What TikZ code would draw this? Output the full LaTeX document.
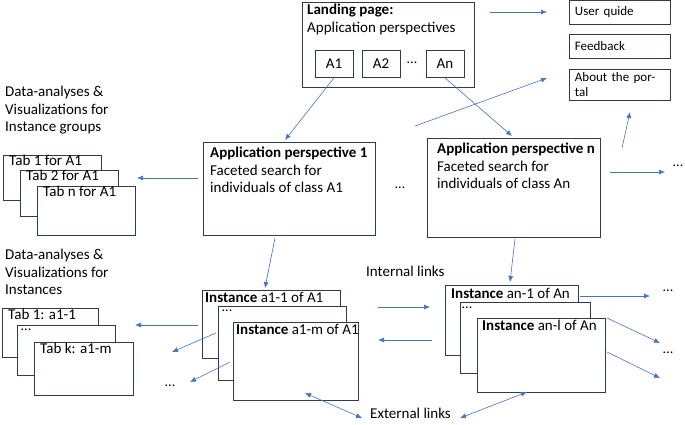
\documentclass[tikz,border=0pt]{standalone}
\usepackage{fontspec}
\setmainfont{Carlito}
\usetikzlibrary{arrows.meta}
\definecolor{frame}{HTML}{2F3B55}
\definecolor{arr}{HTML}{4472C4}
\begin{document}
\begin{tikzpicture}[x=1pt,y=-1pt,
  box/.style={draw=frame,fill=white,thick},
  lbl/.style={anchor=north west,inner sep=0pt,font=\fontsize{15}{17.5}\selectfont,align=left},
  small/.style={draw=frame,thick,minimum width=38pt,minimum height=27pt,font=\fontsize{15}{17}\selectfont},
  side/.style={draw=frame,thick,anchor=north west,minimum width=101pt,minimum height=24pt,text width=90pt,align=left,font=\fontsize{13}{15}\selectfont},
  link/.style={draw=arr,semithick,-{Latex[length=6pt,width=5pt]}},
  dlink/.style={draw=arr,semithick,{Latex[length=6pt,width=5pt]}-{Latex[length=6pt,width=5pt]}},
  dots/.style={font=\fontsize{14}{15}\selectfont}]
\useasboundingbox (0,0) rectangle (685,424);
% landing page
\draw[box] (302,2) rectangle (474,87);
\node[lbl] (land) at (307,4) {\textbf{Landing page:}\\Application perspectives};
\node[small] (a1) at (334,64) {A1};
\node[small] (a2) at (381,64) {A2};
\node[dots] at (412,63) {...};
\node[small] (an) at (445,64) {An};
% side menu
\node[side] (ug) at (569,0) {User quide};
\node[side] (fb) at (569,34) {Feedback};
\node[side] (ab) at (569,69) {About the portal};
\coordinate (t1) at (490,12); \coordinate (t1e) at (547,12);
\coordinate (t2) at (415,126); \coordinate (t2e) at (547,78);
\coordinate (t3) at (622,148); \coordinate (t3e) at (630,112);
\draw[link] (t1) -- (t1e);
\draw[link] (t2) -- (t2e);
\draw[link] (t3) -- (t3e);
% groups
\node[lbl] at (5,86) {Data-analyses \&\\Visualizations for\\Instance groups};
\draw[box] (3,155) rectangle (101,200);
\node[lbl] at (9,155) {Tab 1 for A1};
\draw[box] (20,170) rectangle (118,216);
\node[lbl] at (26,170) {Tab 2 for A1};
\draw[box] (37,186) rectangle (135,235);
\node[lbl] (tabn) at (43,186) {Tab n for A1};
% perspectives
\draw[box] (203,142) rectangle (375,235);
\node[lbl] (ap1) at (210,147) {\textbf{Application perspective 1}\\Faceted search for\\individuals of class A1};
\node[dots] at (400,188) {...};
\draw[box] (427,138) rectangle (600,237);
\node[lbl] (apn) at (437,143) {\textbf{Application perspective n}\\Faceted search for\\individuals of class An};
\coordinate (p1top) at (285,140); \coordinate (pntop) at (512,136);
\draw[link] (a1.south) -- (p1top);
\draw[link] (an.south) -- (pntop);
\coordinate (g1) at (198,178); \coordinate (g1e) at (137,178);
\draw[link] (g1) -- (g1e);
\coordinate (r1) at (610,172); \coordinate (r1e) at (665,172);
\draw[link] (r1) -- (r1e);
\node[dots] at (678,166) {...};
% instances tabs
\node[lbl] at (5,249) {Data-analyses \&\\Visualizations for\\Instances};
\draw[box] (2,308) rectangle (98,357);
\node[lbl] at (8,309) {Tab 1: a1-1};
\draw[box] (17,325) rectangle (115,375);
\node[dots] at (26,330) {...};
\draw[box] (34,342) rectangle (133,395);
\node[lbl] at (40,343) {Tab k: a1-m};
% instances A1
\draw[box] (202,290) rectangle (340,358);
\node[lbl] at (205,292) {\textbf{Instance} a1-1 of A1};
\draw[box] (218,306) rectangle (346,380);
\node[dots] at (227,311) {...};
\draw[box] (233,322) rectangle (358,400);
\node[lbl] at (236,324) {\textbf{Instance} a1-m of A1};
\coordinate (i1) at (275,238); \coordinate (i1e) at (265,288);
\draw[link] (i1) -- (i1e);
\coordinate (l1) at (198,325); \coordinate (l1e) at (135,325);
\draw[link] (l1) -- (l1e);
\coordinate (l2) at (216,333); \coordinate (l2e) at (172,352);
\draw[link] (l2) -- (l2e);
\coordinate (l3) at (230,362); \coordinate (l3e) at (190,382);
\draw[link] (l3) -- (l3e);
\node[dots] at (170,386) {...};
% internal links
\node[lbl] at (366,266) {Internal links};
\coordinate (m1) at (378,307); \coordinate (m1e) at (430,307);
\draw[link] (m1) -- (m1e);
\coordinate (m2) at (432,340); \coordinate (m2e) at (378,340);
\draw[link] (m2) -- (m2e);
% instances An
\draw[box] (445,285) rectangle (578,355);
\node[lbl] at (451,288) {\textbf{Instance} an-1 of An};
\draw[box] (460,302) rectangle (590,373);
\node[dots] at (467,308) {...};
\draw[box] (477,318) rectangle (605,392);
\node[lbl] at (482,320) {\textbf{Instance} an-l of An};
\coordinate (j1) at (515,239); \coordinate (j1e) at (510,282);
\draw[link] (j1) -- (j1e);
\coordinate (s1) at (580,296); \coordinate (s1e) at (650,296);
\draw[link] (s1) -- (s1e);
\node[dots] at (668,291) {...};
\coordinate (s2) at (607,318); \coordinate (s2e) at (660,343);
\draw[link] (s2) -- (s2e);
\coordinate (s3) at (607,352); \coordinate (s3e) at (660,378);
\draw[link] (s3) -- (s3e);
\node[dots] at (668,353) {...};
% external links
\node[lbl] (ext) at (370,408) {External links};
\coordinate (e1) at (305,393); \coordinate (e1e) at (362,418);
\draw[dlink] (e1) -- (e1e);
\coordinate (e2) at (460,418); \coordinate (e2e) at (527,392);
\draw[dlink] (e2) -- (e2e);
\end{tikzpicture}
\end{document}
